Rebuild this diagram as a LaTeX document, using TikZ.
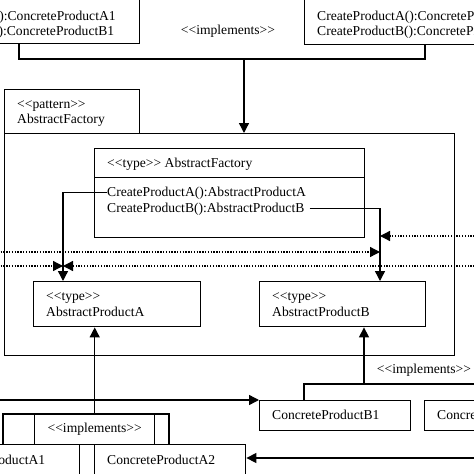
\documentclass[tikz,border=0pt]{standalone}
\usepackage{fontspec}
\setmainfont{Liberation Serif}
\usepackage{tikz}
\usetikzlibrary{arrows.meta}
\usetikzlibrary{calc}

\newcommand{\stereo}[1]{<{}<#1>{}>}

\tikzset{
	box/.style={draw, rectangle, line width=1.4pt, inner sep=0pt, anchor=north west},
	lbl/.style={inner sep=0pt, anchor=base west},
	link/.style={line width=1.4pt},
	tip/.style={-{Triangle[length=10pt,width=10pt]}},
	dots/.style={line width=1.3pt, dash pattern=on 1.3pt off 1.5pt}
}

\begin{document}
\begin{tikzpicture}[x=1pt, y=-1pt, font=\fontsize{13.6}{16}\selectfont]
		\useasboundingbox (0,0) rectangle (474,474);
		\clip (0,0) rectangle (474,474);
		% concrete factories
		\node[box, minimum width=260pt, minimum height=70pt] (cf1) at (-121,-27) {};
		\node[lbl] (cf1A) at (-93,20) {CreateProductA():ConcreteProductA1};
		\node[lbl] (cf1B) at (-93,35) {CreateProductB():ConcreteProductB1};
		\node[box, minimum width=256pt, minimum height=71pt] (cf2) at (304,-27) {};
		\node[lbl] (cf2A) at (317,20) {CreateProductA():ConcreteProductA2};
		\node[lbl] (cf2B) at (317,35) {CreateProductB():ConcreteProductB2};
		\node[lbl, anchor=base] (implF) at (228,34) {\stereo{implements}};
		% pattern
		\node[box, minimum width=135pt, minimum height=44pt] (patTab) at (4,89) {};
		\node[lbl] (patName) at (17,108) {\stereo{pattern}};
		\node[lbl] (patTitle) at (17,123) {AbstractFactory};
		\node[box, minimum width=450pt, minimum height=222pt] (patBody) at (4,133) {};
		% abstract factory
		\node[box, minimum width=270pt, minimum height=29pt] (afHead) at (94,148) {};
		\node[lbl] (afName) at (107,167) {\stereo{type} AbstractFactory};
		\node[box, minimum width=270pt, minimum height=60pt] (afBody) at (94,177) {};
		\node[lbl] (opA) at (107,196) {CreateProductA():AbstractProductA};
		\node[lbl] (opB) at (107,212) {CreateProductB():AbstractProductB};
		% abstract products
		\node[box, minimum width=167pt, minimum height=45pt] (APA) at (33,281) {};
		\node[lbl] (APAtype) at (46,300) {\stereo{type}};
		\node[lbl] (APAname) at (46,316) {AbstractProductA};
		\node[box, minimum width=166pt, minimum height=45pt] (APB) at (259,281) {};
		\node[lbl] (APBtype) at (272,300) {\stereo{type}};
		\node[lbl] (APBname) at (272,316) {AbstractProductB};
		% concrete products
		\node[box, minimum width=151pt, minimum height=30pt] (CPB1) at (259,400) {};
		\node[lbl] (CPB1name) at (272,419) {ConcreteProductB1};
		\node[box, minimum width=150pt, minimum height=30pt] (CPB2) at (424,400) {};
		\node[lbl] (CPB2name) at (437,419) {ConcreteProductB2};
		\node[box, minimum width=155pt, minimum height=32pt] (A1) at (-76,444) {};
		\node[lbl] (A1name) at (-63,464) {ConcreteProductA1};
		\node[box, minimum width=151pt, minimum height=32pt] (A2) at (94,444) {};
		\node[lbl] (A2name) at (107,464) {ConcreteProductA2};
		\node[box, minimum width=120pt, minimum height=30pt] (implA) at (34,414) {\stereo{implements}};
		\node[lbl, anchor=base] (implB) at (424,373) {\stereo{implements}};

		\coordinate (cfJoin) at (244,59);
		\coordinate (dropA) at (63,0);
		\coordinate (dropB) at (380,0);
		\coordinate (brL) at (3,414);
		\coordinate (brR) at (169,414);
		\coordinate (brB) at (364,384);
		\coordinate (brBR) at (480,384);
		\coordinate (inB1) at (-5,400);
		\coordinate (inA2) at (480,458);
		\coordinate (dR0) at (480,236);
		\coordinate (dL1) at (-5,252);
		\coordinate (dL2) at (-5,266);
		\coordinate (dR2) at (480,266);

		\draw[link] ([xshift=140pt]cf1.south west) |- (cfJoin) -| ([xshift=121pt]cf2.south west);
		\draw[link,tip] (cfJoin) -- (cfJoin |- patBody.north);
		\draw[link,tip] (opA.west) -| (dropA |- APA.north);
		\draw[link,tip] ([xshift=5pt]opB.east) -| (dropB |- APB.north);
		%\draw[dots] (dL1) -- (dR2);
		\draw[dots,tip] (dR0) -- (dR0 -| dropB);
		\draw[dots,tip] (dL1) -- (dL1 -| dropB);
		\draw[dots,tip] (dL2) -- (dL2 -| dropA);
		\draw[dots,tip] (dR2) -- (dR2 -| dropA);
		\draw[link] (brL |- A1.north) -- (brL) -- (brR) -- (brR |- A2.north);
		\draw[link,tip] (implA.north) -- (implA.north |- APA.south);
		\draw[link] ([xshift=45pt]CPB1.north west) |- (brBR);
		\draw[link,tip] (brB) -- (brB |- APB.south);
		\draw[link,tip] (inB1) -- (CPB1.north west);
		\draw[link,tip] (inA2) -- (inA2 -| A2.east);
\end{tikzpicture}
\end{document}
